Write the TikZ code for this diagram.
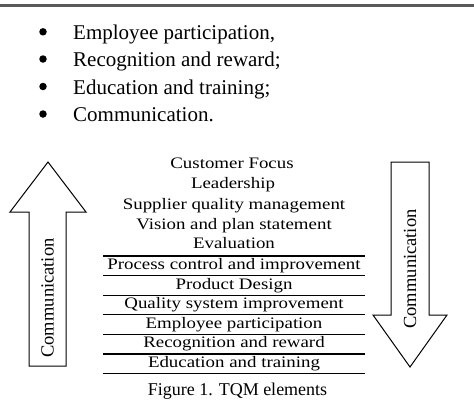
\documentclass[tikz,border=0pt]{standalone}
\usepackage{fontspec}
\setmainfont{Liberation Serif}
\newfontfamily\diagfont[FakeStretch=1.18]{Liberation Serif}
\begin{document}
\begin{tikzpicture}[x=1pt,y=-1pt,
  rowtext/.style={font=\diagfont\fontsize{16}{16}\selectfont, inner sep=0pt, anchor=base},
  sepline/.style={draw=black, line width=1.3pt},
  bigarrow/.style={draw=black, line width=1pt, fill=white, line join=miter},
  arrowlabel/.style={font=\fontsize{18.5}{18.5}\selectfont, inner sep=0pt, rotate=90, anchor=center},
  bullettext/.style={font=\fontsize{21}{21}\selectfont, anchor=base west, inner sep=0pt},
  dot/.style={circle, fill=black, inner sep=0pt, minimum size=7.5pt},
  figcap/.style={font=\fontsize{18}{18}\selectfont, inner sep=0pt, anchor=base},
  topline/.style={draw=black!65, line width=2.5pt}]
\useasboundingbox (0,0) rectangle (474,405);
\fill[white] (0,0) rectangle (474,405);

% top rule
\draw[topline] (0,5.5) -- (474,5.5);

% bullet list
\foreach \y/\t [count=\i] in {39.3/{Employee participation,},66.5/{Recognition and reward;},94/{Education and training;},121.5/{Communication.}}{
  \node[dot] (d\i) at (43,\y-7.5) {};
  \node[bullettext] (b\i) at (73,\y) {\t};
}

% left arrow (up)
\draw[bigarrow] (48,162) -- (86,212) -- (66,212) -- (66,366) -- (29,366) -- (29,212) -- (10,212) -- cycle;
\node[arrowlabel] (lcomm) at (47.5,298) {Communication};

% right arrow (down)
\draw[bigarrow] (391,162) -- (429,162) -- (429,315) -- (447,315) -- (410,367) -- (373,315) -- (391,315) -- cycle;
\node[arrowlabel] (rcomm) at (410,269) {Communication};

% elements
\node[rowtext] (r0) at (232,168) {Customer Focus};
\node[rowtext] (r1) at (233,188.5) {Leadership};
\node[rowtext] (r2) at (234,209) {Supplier quality management};
\node[rowtext] (r3) at (234,229) {Vision and plan statement};
\node[rowtext] (r4) at (234,248.5) {Evaluation};
\node[rowtext] (r5) at (234,269.5) {Process control and improvement};
\node[rowtext] (r6) at (234,289) {Product Design};
\node[rowtext] (r7) at (234,308.7) {Quality system improvement};
\node[rowtext] (r8) at (234,328.3) {Employee participation};
\node[rowtext] (r9) at (234,347.9) {Recognition and reward};
\node[rowtext] (r10) at (234,367.5) {Education and training};

\foreach \y in {256,275.6,295.2,314.8,334.4,354,373.6}{
  \draw[sepline] (103,\y) -- (365,\y);
}

\node[figcap] (cap) at (237.5,395.5) {Figure 1. TQM elements};
\end{tikzpicture}
\end{document}
